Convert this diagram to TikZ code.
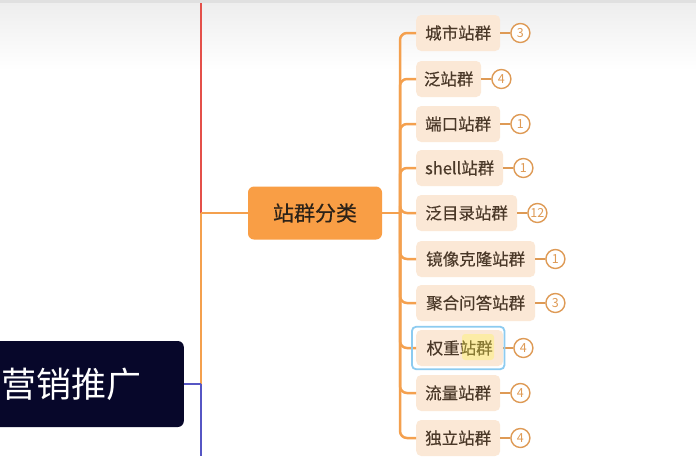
\documentclass[tikz,border=0pt]{standalone}
\usepackage{fontspec}
\setmainfont{Noto Sans CJK SC}
\newfontfamily\kidfont{Noto Sans CJK SC}[FakeBold=0.35]
\usetikzlibrary{positioning}
\definecolor{lred}{HTML}{E4504A}
\definecolor{lorange}{HTML}{F4A04E}
\definecolor{lblue}{HTML}{5656C4}
\definecolor{catfill}{HTML}{F99E45}
\definecolor{kidfill}{HTML}{FBE8D6}
\definecolor{kidtext}{HTML}{4A3828}
\definecolor{cnt}{HTML}{DE9A55}
\definecolor{navy}{HTML}{07072A}
\definecolor{selblue}{HTML}{8CCBF0}
\tikzset{
  kid/.style={draw=none, fill=kidfill, rounded corners=5pt, font=\kidfont\fontsize{16.5}{17}\selectfont, text=kidtext, inner xsep=0pt, inner ysep=0pt, minimum height=36pt, anchor=west},
  cnum/.style={circle, draw=cnt, line width=1.4pt, fill=white, text=cnt, minimum size=19pt, inner sep=0pt, font=\fontsize{12.5}{13}\selectfont},
  link/.style={lorange, line width=2.5pt, rounded corners=7pt},
  clink/.style={cnt, line width=1.4pt},
  trunk/.style={line width=2.8pt}
}
\begin{document}
\begin{tikzpicture}[x=1pt,y=-1pt]
\useasboundingbox (0,0) rectangle (696,456);
\shade[top color=black!7, bottom color=white] (0,0) rectangle (696,70);
\fill[white] (0,70) rectangle (696,456);
\fill[black!12] (0,0) rectangle (696,3);
% main vertical lines
\coordinate (top) at (201,3);
\coordinate (j1) at (201,213);
\coordinate (j2) at (201,384);
\coordinate (bot) at (201,456);
\draw[lred, trunk] (top) -- (j1);
\draw[lorange, trunk] (j1) -- (j2);
\draw[lblue, trunk] (j2) -- (bot);
% root node
\node[fill=navy, rounded corners=6pt, minimum width=224pt, minimum height=86pt, anchor=east, inner sep=0pt] (root) at (184,384) {};
\node[text=white, font=\fontsize{35}{36}\selectfont, anchor=west, inner sep=0pt] (roottxt) at (1,384) {营销推广};
\draw[lblue, trunk] (root.east) -- (j2);
% category node
\node[fill=catfill, rounded corners=6pt, minimum width=134pt, minimum height=53pt, inner sep=0pt, font=\kidfont\fontsize{21}{22}\selectfont, text=kidtext!60!black] (cat) at (315,213) {站群分类};
\draw[lorange, trunk] (j1) -- (cat.west);
\coordinate (hub) at (400,213);
\draw[lorange, trunk] (cat.east) -- (hub);
% children
\foreach \n/\y/\w/\t/\c in {
  a/33/84/城市站群/3,
  b/79/65/泛站群/4,
  c/124/84/端口站群/1,
  d/168/87/shell站群/1,
  e/213/101/泛目录站群/12,
  f/259/119/镜像克隆站群/1,
  g/303/119/聚合问答站群/3,
  h/348/87/权重站群/4,
  i/393/84/流量站群/4,
  k/438/84/独立站群/4}{
  \node[kid, minimum width=\w pt] (\n) at (416,\y) {\t};
  \draw[link] (hub) |- (\n.west);
  \node[cnum] (\n c) at ([xshift=20pt]\n.east) {\c};
  \draw[clink] (\n.east) -- (\n c.west);
}
% selection frame and highlight on the selected topic
\draw[selblue, line width=1.8pt, rounded corners=4pt] ([xshift=-4pt,yshift=3pt]h.north west) rectangle ([xshift=1pt,yshift=-3pt]h.south east);
\fill[yellow!70, opacity=0.35, rounded corners=3pt] (462,334) rectangle (494,360);
\end{tikzpicture}
\end{document}
